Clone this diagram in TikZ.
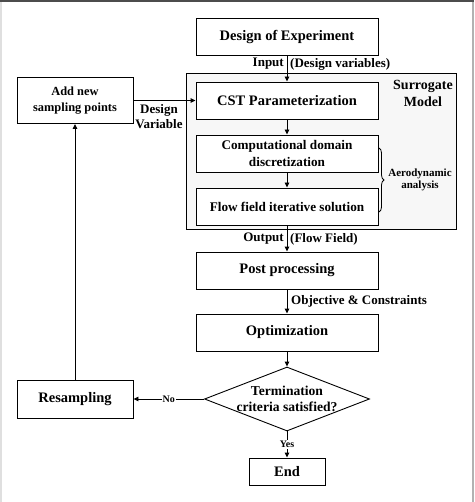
\documentclass[tikz,border=0pt]{standalone}
\usepackage{fontspec}
\setmainfont{Liberation Serif}
\usetikzlibrary{shapes.geometric,arrows.meta,decorations.pathreplacing}

\begin{document}
\begin{tikzpicture}[x=1pt,y=-1pt,
    box/.style={draw, line width=0.9pt, fill=white, minimum width=182pt, minimum height=37pt,
        inner sep=0pt, align=center, font=\bfseries\fontsize{14.5}{17}\selectfont},
    lbl/.style={inner sep=1pt, font=\bfseries\fontsize{13}{15}\selectfont},
    arr/.style={line width=0.9pt, -{Triangle[length=5pt,width=4.5pt]}}]
    \useasboundingbox (0,0) rectangle (474,502);
    % frame of the figure
    \fill[gray!25] (0,0) rectangle (2,502);
    \fill[gray!60] (472,0) rectangle (474,502);
    \fill[black!70] (0,0) rectangle (474,2);

    \node[box] (doe) at (287,36.5) {Design of Experiment};
    \node[draw, line width=0.9pt, fill=gray!6, minimum width=270pt, minimum height=156pt, inner sep=0pt] (sm) at (321,151) {};
    \node[lbl, align=center, font=\bfseries\fontsize{14}{17}\selectfont] (smlbl) at (423,93.5) {Surrogate\\Model};
    \node[box] (cst) at (287,100.5) {CST Parameterization};
    \node[box, font=\bfseries\fontsize{13.2}{17}\selectfont] (cdd) at (287,153.5) {Computational domain\\discretization};
    \node[box, font=\bfseries\fontsize{13.2}{15}\selectfont] (ffs) at (287,206.5) {Flow field iterative solution};
    \node[box] (post) at (287,270.5) {Post processing};
    \node[box] (opt) at (287,332.5) {Optimization};
    \node[diamond, draw, line width=0.9pt, aspect=2.58, minimum width=165pt, minimum height=64pt, inner sep=-5pt,
        align=center, font=\bfseries\fontsize{13.6}{16}\selectfont] (term) at (287,399) {Termination\\criteria satisfied?};
    \node[box, minimum width=76pt, minimum height=27pt] (end) at (287,471.5) {End};
    \node[box, minimum width=116pt, minimum height=38pt] (resamp) at (75,399) {Resampling};
    \node[box, minimum width=116pt, minimum height=46pt, font=\bfseries\fontsize{12.4}{16}\selectfont] (addnew) at (75,100.5) {Add new\\sampling points};

    % connectors
    \draw[arr] (doe) -- (cst);
    \draw[arr] (cst) -- (cdd);
    \draw[arr] (cdd) -- (ffs);
    \draw[arr] (ffs) -- (post);
    \draw[arr] (post) -- (opt);
    \draw[arr] (opt) -- (term);
    \draw[arr] (term) -- node[lbl, fill=white, font=\bfseries\fontsize{10}{11}\selectfont] (yes) {Yes} (end);
    \draw[arr] (term) -- node[lbl, fill=white, font=\bfseries\fontsize{10}{11}\selectfont] (no) {No} (resamp);
    \draw[arr] (resamp) -- (addnew);
    \draw[arr] (addnew) -- (cst);

    % labels on the connectors
    \node[lbl, anchor=east] (inlbl) at (285,64) {Input};
    \node[lbl, anchor=west] (dvlbl) at (289,64) {(Design variables)};
    \node[lbl, anchor=east] (outlbl) at (285,239) {Output};
    \node[lbl, anchor=west] (fflbl) at (289,239) {(Flow Field)};
    \node[lbl, anchor=west] (oclbl) at (290,301) {Objective \& Constraints};
    \node[lbl, align=center, font=\bfseries\fontsize{13}{15}\selectfont] (dvar) at (159,116.5) {Design\\Variable};

    % brace round the aerodynamic analysis
    \draw[line width=0.8pt, decorate, decoration={brace, amplitude=5pt}] (379,148) -- (379,212);
    \node[lbl, align=center, font=\bfseries\fontsize{11}{12.5}\selectfont] (aero) at (420,180) {Aerodynamic\\analysis};
\end{tikzpicture}
\end{document}
